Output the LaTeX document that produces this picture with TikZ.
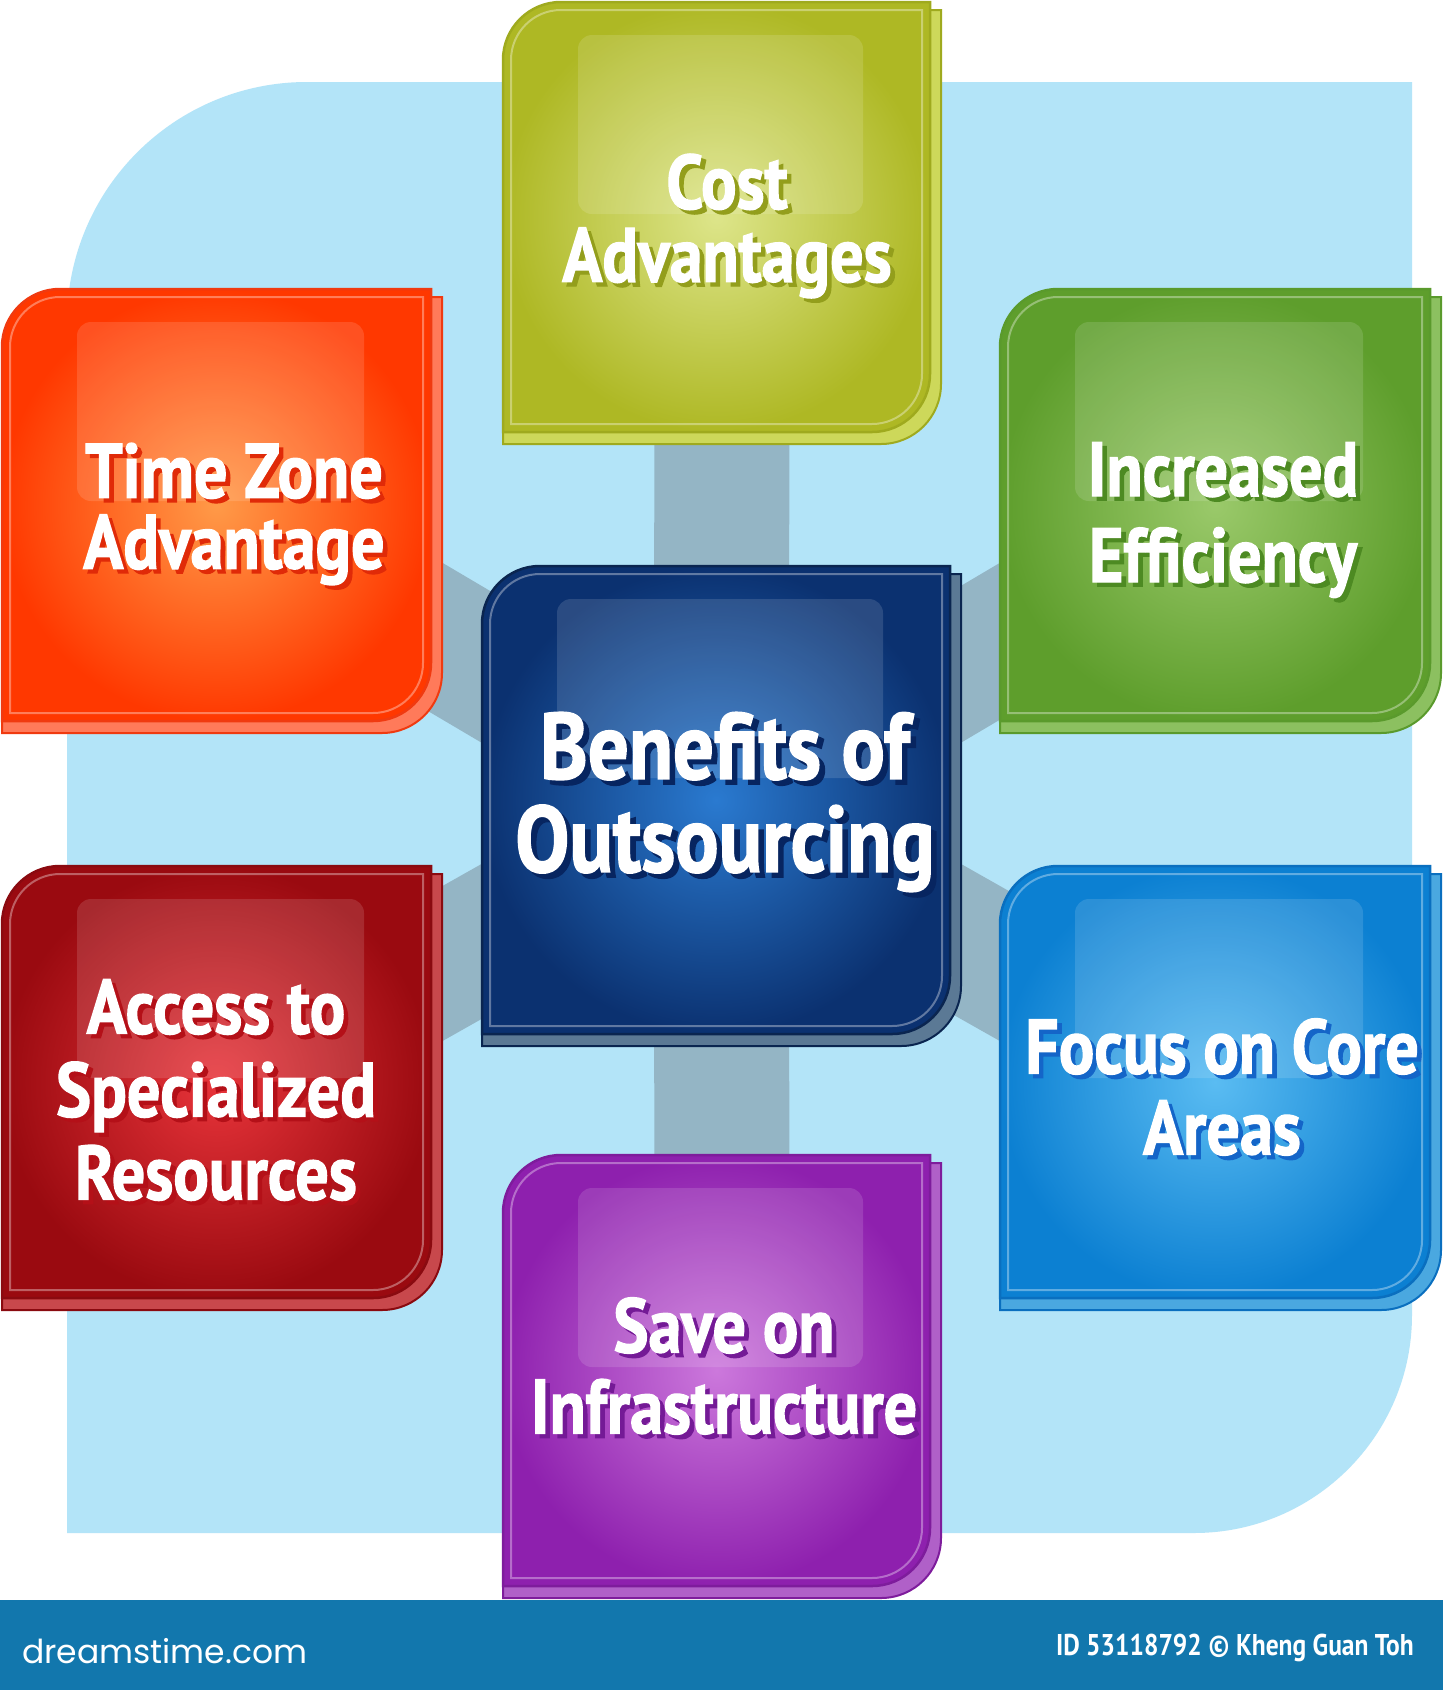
\documentclass[tikz,border=0pt]{standalone}
\usepackage{fontspec}
\newfontfamily\boxfont[FakeStretch=0.86, BoldFeatures={FakeBold=1.6}]{PT Sans}
\newfontfamily\idfont[FakeStretch=0.85]{PT Sans}
\newfontfamily\dsfont{Poppins}

\definecolor{bgblue}{HTML}{B3E4F8}
\definecolor{connc}{HTML}{94B5C5}
\definecolor{barblue}{HTML}{1277AD}
% Cost
\definecolor{costE}{HTML}{9FAA1E}\definecolor{costB}{HTML}{CDD85A}
\definecolor{costO}{HTML}{AEB824}\definecolor{costI}{HTML}{DDE58A}\definecolor{costS}{HTML}{939E1C}
% Time zone
\definecolor{tzE}{HTML}{F03A10}\definecolor{tzB}{HTML}{FF7A5A}
\definecolor{tzO}{HTML}{FF3800}\definecolor{tzI}{HTML}{FF9A48}\definecolor{tzS}{HTML}{E02A08}
% Efficiency
\definecolor{effE}{HTML}{5A9A2C}\definecolor{effB}{HTML}{8CC060}
\definecolor{effO}{HTML}{5E9E2C}\definecolor{effI}{HTML}{9AC96A}\definecolor{effS}{HTML}{4D8A22}
% Center
\definecolor{cenE}{HTML}{0A2550}\definecolor{cenB}{HTML}{5B7995}
\definecolor{cenO}{HTML}{0B3170}\definecolor{cenI}{HTML}{2A7AD0}\definecolor{cenS}{HTML}{072560}
% Access
\definecolor{accE}{HTML}{8A0A10}\definecolor{accB}{HTML}{C8484C}
\definecolor{accO}{HTML}{9A0A10}\definecolor{accI}{HTML}{E8343A}\definecolor{accS}{HTML}{B41018}
% Focus
\definecolor{focE}{HTML}{0A6FBF}\definecolor{focB}{HTML}{4AA8E0}
\definecolor{focO}{HTML}{0C80D2}\definecolor{focI}{HTML}{5ABCF2}\definecolor{focS}{HTML}{1465C8}
% Save
\definecolor{savE}{HTML}{7E1C9C}\definecolor{savB}{HTML}{B060C8}
\definecolor{savO}{HTML}{8E20AE}\definecolor{savI}{HTML}{CC78DC}\definecolor{savS}{HTML}{741A96}

\newcommand\sh[2]{\makebox[0pt][l]{\hspace*{0.06em}\raisebox{-0.055em}[0pt][0pt]{\textcolor{#1}{#2}}}#2}

\tikzset{
  bshape/.style n args={5}{insert path={(#1,#2+#5) arc[start angle=180,end angle=270,radius=#5] -- (#3,#2) -- (#3,#4-#5) arc[start angle=0,end angle=90,radius=#5] -- (#1,#4) -- cycle}},
  connector/.style={connc, line width=135pt},
  lbl/.style={text=white, align=center, inner sep=0pt, font=\boxfont\bfseries\fontsize{77}{#1}\selectfont},
  biglbl/.style={text=white, align=center, inner sep=0pt, font=\boxfont\bfseries\fontsize{94}{93}\selectfont},
}

\newcommand\gbox[8]{%
  \fill[#6, draw=#5, line width=2pt, bshape={#1}{#2+8}{#3}{#4}{60}];
  \shade[inner color=#8, outer color=#7, bshape={#1}{#2}{#3-11}{#4-12}{58}];
  \draw[#5, line width=2.5pt, bshape={#1}{#2}{#3-11}{#4-12}{58}];
  \draw[white, opacity=.35, line width=2pt, bshape={#1+8}{#2+8}{#3-19}{#4-20}{50}];
  \fill[white, opacity=.13, rounded corners=14pt] (#1+75,#2+33) rectangle (#3-78,#2+212);
}

\begin{document}
\begin{tikzpicture}[x=1pt,y=-1pt]
\useasboundingbox (0,0) rectangle (1443,1690);
\fill[white] (0,0) rectangle (1443,1690);

% light blue background
\fill[bgblue] (67,322) arc[start angle=180,end angle=270,radius=240] -- (1412,82)
  -- (1412,1315) arc[start angle=0,end angle=90,radius=218] -- (67,1533) -- cycle;

% box centres
\coordinate (pC) at (721.5,806);
\coordinate (pCost) at (722,223);
\coordinate (pTZ) at (222,511);
\coordinate (pEff) at (1220,511);
\coordinate (pAcc) at (222,1088);
\coordinate (pFoc) at (1220,1088);
\coordinate (pSav) at (722,1376);

% connectors
\draw[connector] (pC) -- (pCost);
\draw[connector] (pC) -- (pSav);
\draw[connector] (pC) -- (pTZ);
\draw[connector] (pC) -- (pEff);
\draw[connector] (pC) -- (pAcc);
\draw[connector] (pC) -- (pFoc);

% boxes
\gbox{503}{2}{941}{444}{costE}{costB}{costO}{costI}
\gbox{2}{289}{442}{733}{tzE}{tzB}{tzO}{tzI}
\gbox{1000}{289}{1441}{733}{effE}{effB}{effO}{effI}
\gbox{482}{566}{961}{1046}{cenE}{cenB}{cenO}{cenI}
\gbox{2}{866}{442}{1310}{accE}{accB}{accO}{accI}
\gbox{1000}{866}{1441}{1310}{focE}{focB}{focO}{focI}
\gbox{503}{1155}{941}{1598}{savE}{savB}{savO}{savI}

% labels
\node[lbl=73] (tCost) at (727,226) {\sh{costS}{Cost}\\\sh{costS}{Advantages}};
\node[lbl=71] (tTZ) at (234,514) {\sh{tzS}{Time Zone}\\\sh{tzS}{Advantage}};
\node[lbl=86] (tEff) at (1223,520) {\sh{effS}{Increased}\\\sh{effS}{Efficiency}};
\node[biglbl] (tC) at (725,802) {\sh{cenS}{Benefits of}\\\sh{cenS}{Outsourcing}};
\node[lbl=83] (tAcc) at (216,1090) {\sh{accS}{Access to}\\\sh{accS}{Specialized}\\\sh{accS}{Resources}};
\node[lbl=81] (tFoc) at (1222,1087) {\sh{focS}{Focus on Core}\\\sh{focS}{Areas}};
\node[lbl=81] (tSav) at (724,1366) {\sh{savS}{Save on}\\\sh{savS}{Infrastructure}};

% bottom bar
\fill[barblue] (0,1600) rectangle (1443,1690);
\node[anchor=base west, text=white, inner sep=0pt, font=\dsfont\fontsize{33}{33}\selectfont] (ds) at (22,1663) {dreamstime.com};
\node[anchor=base east, text=white, inner sep=0pt, font=\idfont\bfseries\fontsize{30}{30}\selectfont] (idt) at (1414,1655) {ID 53118792 © Kheng Guan Toh};
\end{tikzpicture}
\end{document}
